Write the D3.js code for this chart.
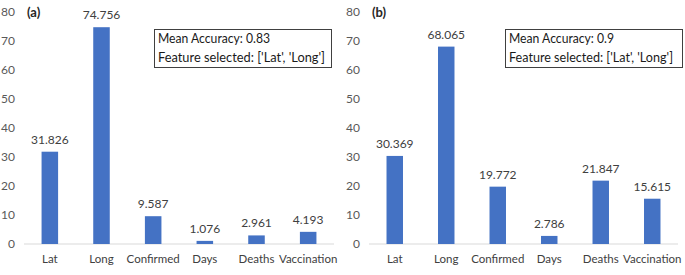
<!DOCTYPE html>
<html>
<head>
<meta charset="utf-8">
<script src="https://cdn.jsdelivr.net/npm/d3@7"></script>
<style>
  body { margin: 0; background: #fff; }
  text { font-family: Lato, "DejaVu Sans", sans-serif; }
</style>
</head>
<body>
<div id="chart"></div>
<script>
const categories = ["Lat", "Long", "Confirmed", "Days", "Deaths", "Vaccination"];
const valuesA = [31.826, 74.756, 9.587, 1.076, 2.961, 4.193];
const valuesB = [30.369, 68.065, 19.772, 2.786, 21.847, 15.615];
const yTicks = [0, 10, 20, 30, 40, 50, 60, 70, 80];
const panelNames = ["(a)", "(b)"];
const accuracies = ["Mean Accuracy: 0.83", "Mean Accuracy: 0.9"];
const featureText = "Feature selected: ['Lat', 'Long']";

const width = 685, height = 275;

const svg = d3.select("#chart")
  .append("svg")
  .attr("width", width)
  .attr("height", height);

// both panels share the same vertical scale
const y = d3.scaleLinear().domain([0, 80]).range([244, 12]);

const panels = [
  { values: valuesA, x0: 24, x1: 334, tickX: 15, box: [154, 29, 177, 38], accW: 112, featW: 167 },
  { values: valuesB, x0: 369, x1: 678, tickX: 360, box: [505, 29, 177, 38], accW: 105, featW: 164 }
];

panels.forEach((p, i) => {
  const g = svg.append("g");

  const x = d3.scaleBand()
    .domain(categories)
    .range([p.x0, p.x1])
    .paddingInner(0.68)
    .paddingOuter(0.34);

  // y tick labels, no axis line
  g.append("g")
    .selectAll("text")
    .data(yTicks)
    .join("text")
    .attr("x", p.tickX)
    .attr("y", d => y(d))
    .attr("dy", "0.35em")
    .attr("text-anchor", "end")
    .attr("fill", "#595959")
    .attr("font-size", 12)
    .text(d => d);

  g.append("line")
    .attr("x1", p.x0).attr("x2", p.x1)
    .attr("y1", y(0)).attr("y2", y(0))
    .attr("stroke", "#d9d9d9")
    .attr("stroke-width", 1);

  g.append("g")
    .selectAll("rect")
    .data(p.values)
    .join("rect")
    .attr("x", (d, j) => x(categories[j]))
    .attr("width", x.bandwidth())
    .attr("y", d => y(d))
    .attr("height", d => y(0) - y(d))
    .attr("fill", "#4472c4");

  g.append("g")
    .selectAll("text")
    .data(p.values)
    .join("text")
    .attr("x", (d, j) => x(categories[j]) + x.bandwidth() / 2)
    .attr("y", d => y(d) - 8)
    .attr("text-anchor", "middle")
    .attr("fill", "#404040")
    .attr("font-size", 12)
    .text(d => d3.format(".3f")(d));

  g.append("g")
    .selectAll("text")
    .data(categories)
    .join("text")
    .attr("x", d => x(d) + x.bandwidth() / 2)
    .attr("y", 263)
    .attr("text-anchor", "middle")
    .attr("fill", "#404040")
    .attr("font-size", 11.5)
    .text(d => d);

  g.append("text")
    .attr("x", p.x0 + 3)
    .attr("y", 17)
    .attr("font-family", "Liberation Sans, Arial, sans-serif")
    .attr("font-weight", "bold")
    .attr("font-size", 13)
    .attr("fill", "#262626")
    .text(panelNames[i]);

  const [bx, by, bw, bh] = p.box;
  g.append("rect")
    .attr("x", bx + 0.5).attr("y", by + 0.5)
    .attr("width", bw).attr("height", bh)
    .attr("fill", "#fff")
    .attr("stroke", "#404040")
    .attr("stroke-width", 1);

  g.append("text")
    .attr("x", bx + 4)
    .attr("y", by + 14)
    .attr("font-size", 14)
    .attr("fill", "#1a1a1a")
    .attr("textLength", p.accW)
    .attr("lengthAdjust", "spacingAndGlyphs")
    .text(accuracies[i]);

  g.append("text")
    .attr("x", bx + 4)
    .attr("y", by + 33)
    .attr("font-size", 14)
    .attr("fill", "#1a1a1a")
    .attr("textLength", p.featW)
    .attr("lengthAdjust", "spacingAndGlyphs")
    .text(featureText);
});
</script>
</body>
</html>
